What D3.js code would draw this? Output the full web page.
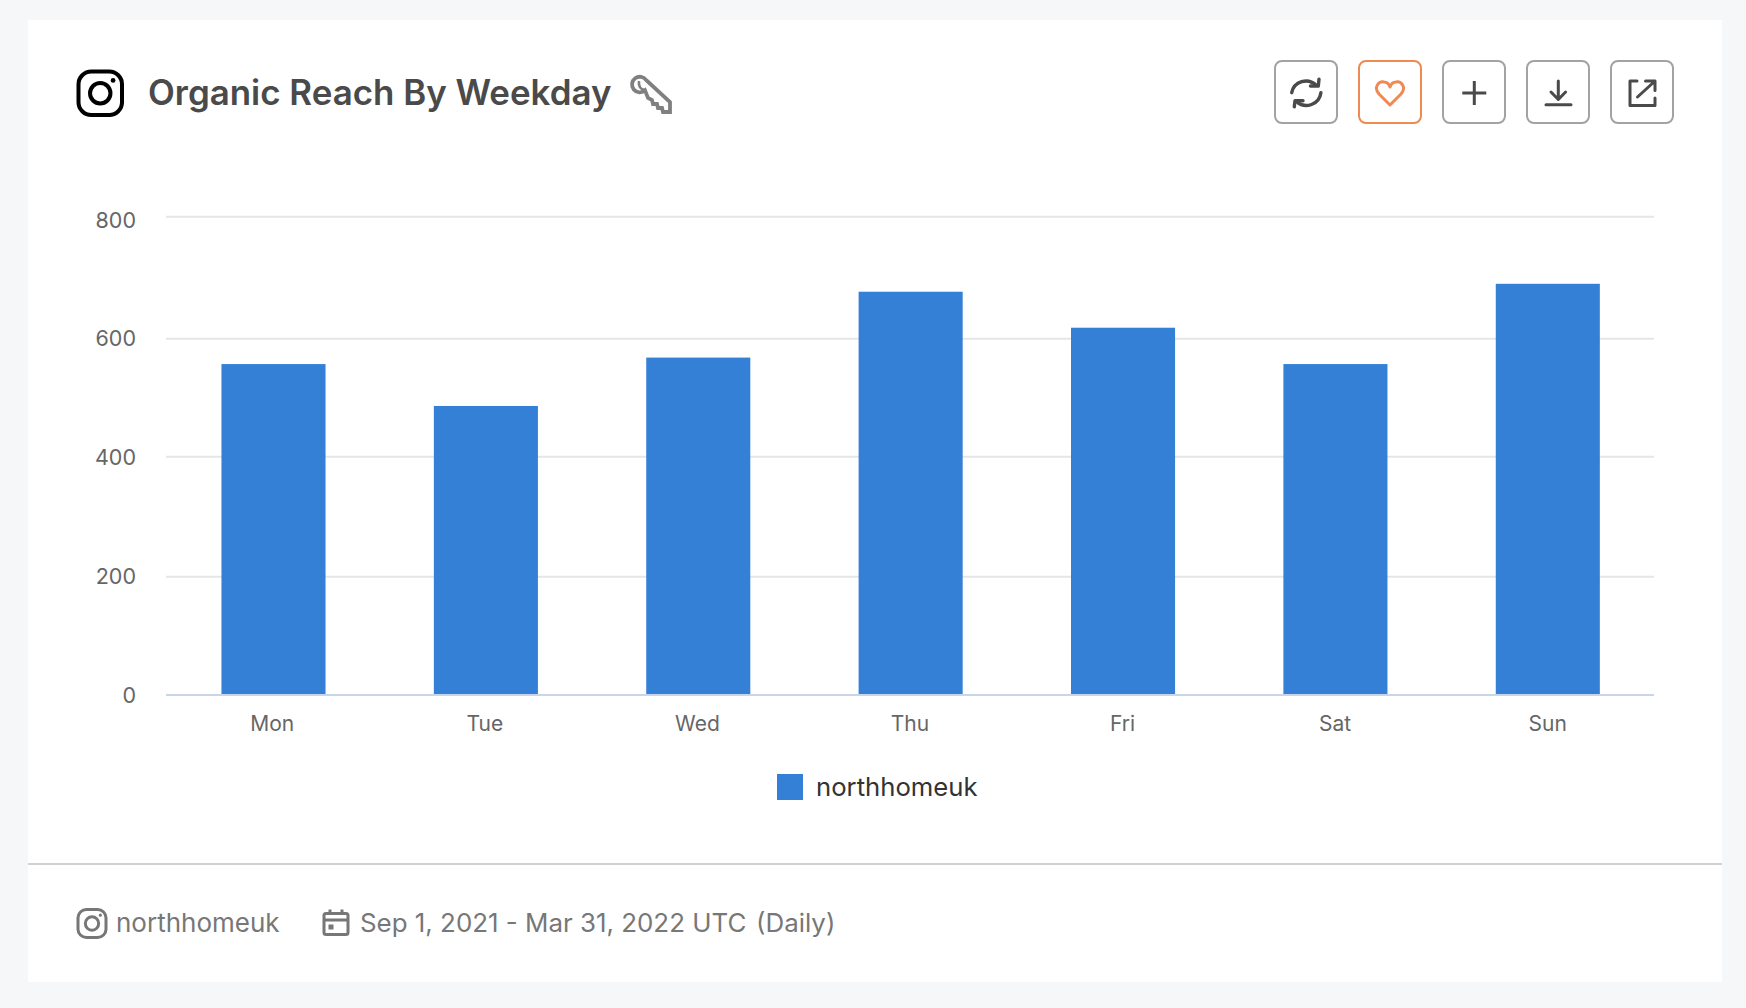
<!DOCTYPE html>
<html><head><meta charset="utf-8">
<script src="https://cdn.jsdelivr.net/npm/d3@7"></script>
<style>
html,body{margin:0;padding:0;background:#f6f7f9}
svg{display:block}
text{font-family:Inter,"Noto Sans",sans-serif}
</style></head><body>
<svg id="c" width="1746" height="1008"></svg>
<script>
const days = ["Mon","Tue","Wed","Thu","Fri","Sat","Sun"];
const reach = [557,486,568,677,618,557,690];
const yTicks = [0,200,400,600,800];
const seriesName = "northhomeuk";
const titleText = "Organic Reach By Weekday";
const rangeText = "Sep 1, 2021 - Mar 31, 2022 UTC";
const granularity = "(Daily)";

const svg = d3.select("#c");
const dark="#4a4a4a", grey="#777777", blue="#3580d7";

svg.append("rect").attr("x",28).attr("y",20).attr("width",1694).attr("height",962).attr("fill","#fff");
svg.append("rect").attr("x",28).attr("y",863).attr("width",1694).attr("height",2).attr("fill","#d2d2d2");

// scales
const yGrid = d3.scaleLinear().domain(yTicks).range([695,576.7,456.7,338.7,216.7]);
const yLabel = d3.scaleLinear().domain(yTicks).range([696.5,577,458.5,338.7,221]);
const xLabel = d3.scaleBand().domain(days).range([166,1654]);
const xBar = d3.scaleBand().domain(days).range([167.3,1654]).paddingInner(0.51).paddingOuter(0.255);

// grid
const grid = svg.append("g").attr("transform","translate(166,0)")
  .call(d3.axisLeft(yGrid).tickValues(yTicks.slice(1)).tickSize(-1488).tickFormat("").offset(0));
grid.select(".domain").remove();
grid.selectAll("line").attr("stroke","#e5e6e8").attr("stroke-width",2);

// bars
svg.append("g").selectAll("rect").data(reach).join("rect")
  .attr("x",(d,i)=>xBar(days[i])).attr("width",xBar.bandwidth())
  .attr("y",d=>yGrid(d)).attr("height",d=>yGrid(0)-yGrid(d)).attr("fill",blue);

// baseline + x labels
const xa = svg.append("g").attr("transform","translate(0,695)")
  .call(d3.axisBottom(xLabel).tickSize(0).tickPadding(21).offset(0));
xa.select(".domain").attr("stroke","#c9d6ea").attr("stroke-width",2);
xa.selectAll("text").attr("fill","#666").style("font-size","21px").style("font-family","Inter");

// y labels
const ya = svg.append("g").attr("transform","translate(136,0)")
  .call(d3.axisLeft(yLabel).tickValues(yTicks).tickSize(0).tickPadding(0).offset(0));
ya.select(".domain").remove();
ya.selectAll("text").attr("fill","#666").style("font-size","21.5px").style("font-family","Inter");

// legend
svg.append("rect").attr("x",777).attr("y",774).attr("width",26).attr("height",26).attr("fill",blue);
svg.append("text").attr("x",816).attr("y",796).attr("fill","#333").style("font-size","25.7px").text(seriesName);

// title
svg.append("text").attr("x",148).attr("y",105).attr("fill",dark).style("font-size","34.9px").style("font-weight",600).text(titleText);

// instagram glyph
function ig(x,y,s,color,sw){
  const g=svg.append("g").attr("transform",`translate(${x},${y})`).attr("fill","none").attr("stroke",color).attr("stroke-width",sw);
  g.append("rect").attr("x",sw/2).attr("y",sw/2).attr("width",s-sw).attr("height",s-sw).attr("rx",s*0.27);
  g.append("circle").attr("cx",s/2).attr("cy",s/2).attr("r",s*0.215);
  g.append("circle").attr("cx",s*0.77).attr("cy",s*0.23).attr("r",s*0.05).attr("fill",color).attr("stroke","none");
}
ig(76.5,69.5,47.5,"#000",4);
ig(76.5,908,31,grey,3);

// key glyph
const key=svg.append("g").attr("transform","translate(620,65)").attr("fill","none").attr("stroke","#808080").attr("stroke-width",3.8).attr("stroke-linejoin","miter");
key.append("path").attr("d","M25 25.4 A7.8 7.8 0 1 1 26.3 15.2 L50 37 L50 47 L43 47 L42 43 L38 43 L37 39 L33 39 L32 35 L28 33 Z");
key.append("path").attr("stroke-width",2.6).attr("d","M19 16 Q18 24 25 25");

// buttons
const btnX=[1274.5,1358.5,1442.5,1526.5,1610.5];
svg.append("g").selectAll("rect").data(btnX).join("rect")
  .attr("x",d=>d+0.5).attr("y",61).attr("width",62).attr("height",62).attr("rx",7)
  .attr("fill","#fff").attr("stroke",(d,i)=>i==1?"#ef8a52":"#a3a3a3").attr("stroke-width",2);
const ic=svg.append("g").attr("fill","none").attr("stroke",dark).attr("stroke-width",3).attr("stroke-linecap","round").attr("stroke-linejoin","round");
// refresh
ic.append("path").attr("stroke-width",3.4).attr("d","M1291.7 92.7 A14.6 14.6 0 0 1 1316 85 M1320.9 92.7 A14.6 14.6 0 0 1 1296.7 101.7");
ic.append("path").attr("stroke-width",3.4).attr("d","M1319 79.3 L1318.3 86 L1310.5 86 M1294.3 106.7 L1295 100.7 L1303 100.7");
// heart
ic.append("path").attr("stroke","#ef8a52").attr("d","M1390 105 L1379 94 C1373 87 1379 81 1384 82 C1387 82 1389 84 1390 87 C1391 84 1393 82 1396 82 C1401 81 1407 87 1401 94 Z");
// plus
ic.append("path").attr("stroke-linecap","butt").attr("d","M1474.3 81 V105 M1462.3 93 H1486.3");
// download
ic.append("path").attr("d","M1558.3 81 V99 M1551 92 L1558.3 99.5 L1565.6 92 M1546 104.7 H1571");
// export
ic.append("path").attr("d","M1637 81 H1630 V105.5 H1655 V98 M1645.5 81 H1655 V90.5 M1655 81 L1637.5 97");

// footer
svg.append("text").attr("x",116).attr("y",932).attr("fill",grey).style("font-size","26px").style("font-weight",400).text(seriesName);
const cal=svg.append("g").attr("transform","translate(322.5,909.5)").attr("fill","none").attr("stroke",grey).attr("stroke-width",3);
cal.append("rect").attr("x",1.5).attr("y",4).attr("width",24).attr("height",21).attr("rx",2);
cal.append("path").attr("d","M1.5 10.5 H25.5 M7.5 0 V5 M19.5 0 V5");
cal.append("rect").attr("x",6).attr("y",15).attr("width",5).attr("height",5).attr("fill",grey).attr("stroke","none");
svg.append("text").attr("x",360).attr("y",932).attr("fill",grey).style("font-size","25.9px").text(rangeText);
svg.append("text").attr("x",756).attr("y",932).attr("fill",grey).style("font-size","25.9px").text(granularity);
</script>
</body></html>
